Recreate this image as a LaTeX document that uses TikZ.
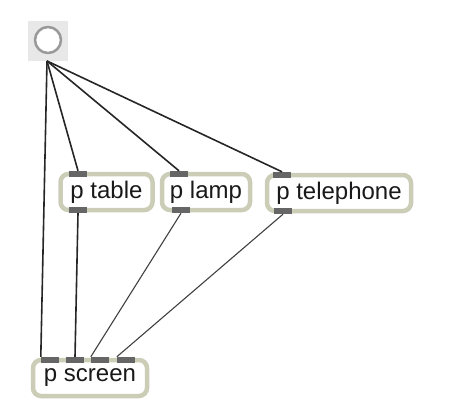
\documentclass[tikz,border=0pt]{standalone}
\usepackage{fontspec}
\setmainfont{Liberation Sans}
\begin{document}
\begin{tikzpicture}[x=1pt,y=-1pt,
  patchbox/.style={draw=boxrim,line width=4.5pt,rounded corners=8pt,fill=white,
    minimum height=36pt,inner sep=0pt,font=\fontsize{24}{26}\selectfont,text=black!90},
  port/.style={fill=black!60,minimum width=18pt,minimum height=6pt,inner sep=0pt},
  wire/.style={line width=1.6pt,draw=black!85},
  thinwire/.style={line width=1.1pt,draw=black!75}]
\definecolor{boxrim}{HTML}{CBCDB7}
\useasboundingbox (0,0) rectangle (458,418);
% button
\node[fill=black!9,minimum width=40pt,minimum height=40pt,inner sep=0pt] (bg) at (48,41) {};
\node[circle,draw=black!40,line width=2.5pt,fill=white,minimum size=26pt,inner sep=0pt] (btn) at (48,40) {};
\coordinate (bout) at (47,61);
% boxes
\node[patchbox,minimum width=92pt] (table) at (106.5,192) {p table};
\node[patchbox,minimum width=88pt] (lamp) at (206,192) {p lamp};
\node[patchbox,minimum width=144pt] (tel) at (339,193) {p telephone};
\node[patchbox,minimum width=114pt] (screen) at (90,378) {p screen};
% ports
\node[port] (tablein) at (78,174) {};
\node[port] (tableout) at (78,210) {};
\node[port] (lampin) at (179,174) {};
\node[port] (lampout) at (181,210) {};
\node[port] (telin) at (282,175) {};
\node[port] (telout) at (283,211) {};
\node[port] (s1) at (50,360) {};
\node[port] (s2) at (75,360) {};
\node[port] (s3) at (100,360) {};
\node[port] (s4) at (126,360) {};
% wires
\draw[wire] (bout) -- (s1.north west);
\draw[wire] (bout) -- (tablein.north);
\draw[wire] (bout) -- (lampin.north);
\draw[wire] (bout) -- (telin.north);
\draw[wire] (tableout.south) -- (s2.north);
\draw[thinwire] (lampout.south) -- (s3.north west);
\draw[thinwire] (telout.south) -- (s4.north west);
\end{tikzpicture}
\end{document}
